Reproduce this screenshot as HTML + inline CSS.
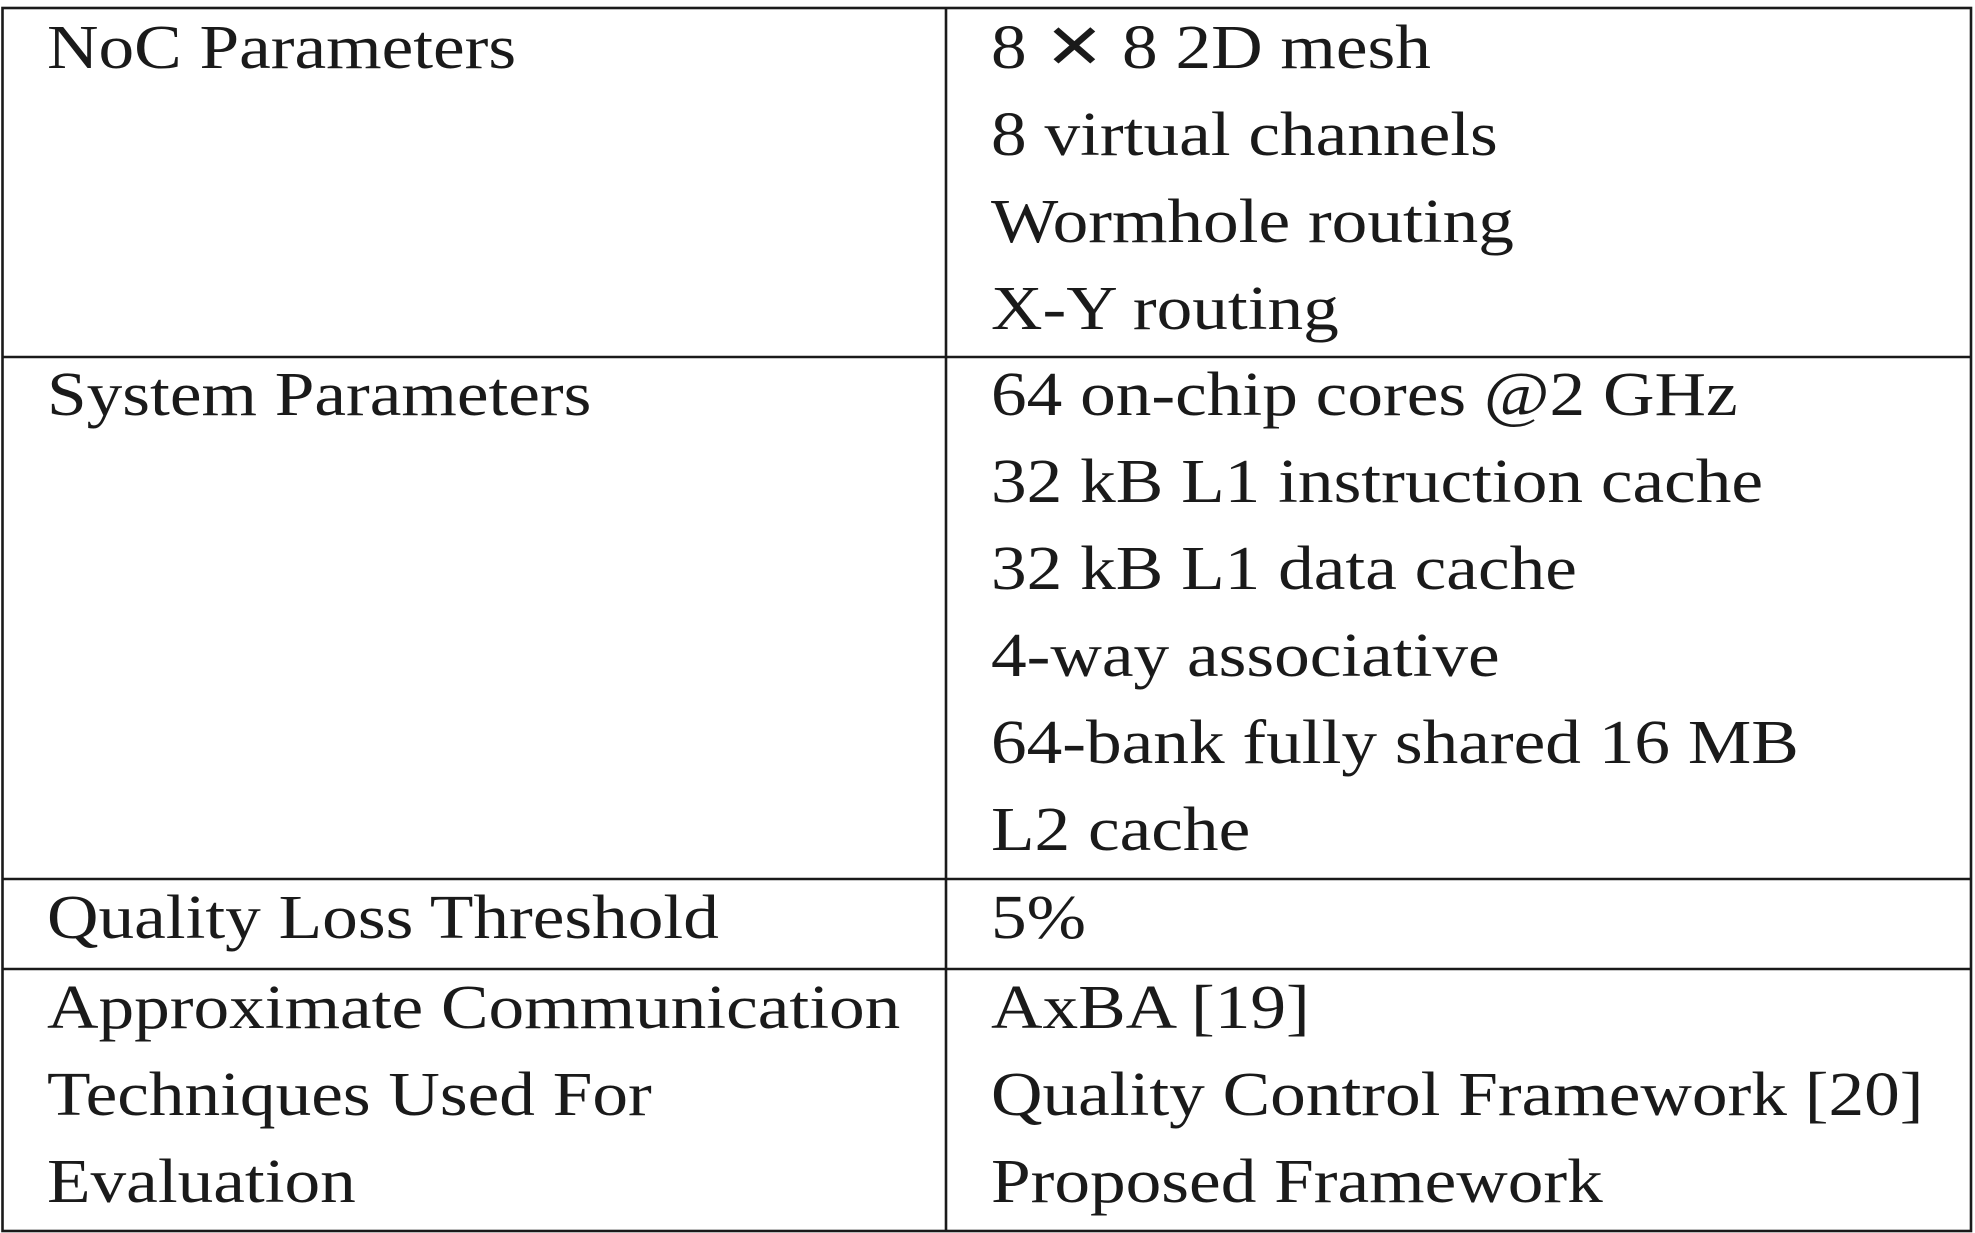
<!DOCTYPE html>
<html><head><meta charset="utf-8"><style>
html,body{margin:0;padding:0;background:#fff;}
svg{display:block;}
text{font-family:"Liberation Serif",serif;font-size:62px;fill:#1a1a1a;}
</style></head><body>
<svg width="1975" height="1233" viewBox="0 0 1975 1233" xmlns="http://www.w3.org/2000/svg">
<g stroke="#1a1a1a" stroke-width="2.6" fill="none">
<rect x="2.5" y="8" width="1968.5" height="1223"/>
<line x1="946" y1="8" x2="946" y2="1231"/>
<line x1="2.5" y1="357" x2="1971" y2="357"/>
<line x1="2.5" y1="879" x2="1971" y2="879"/>
<line x1="2.5" y1="969" x2="1971" y2="969"/>
</g>
<g transform="translate(47,0) scale(1.15,1)">
<text x="0" y="68">NoC Parameters</text>
<text x="0" y="415">System Parameters</text>
<text x="0" y="938">Quality Loss Threshold</text>
<text x="0" y="1028">Approximate Communication</text>
<text x="0" y="1115">Techniques Used For</text>
<text x="0" y="1202">Evaluation</text>
</g>
<g transform="translate(991,0) scale(1.15,1)">
<text x="0" y="68">8 ✕ 8 2D mesh</text>
<text x="0" y="155">8 virtual channels</text>
<text x="0" y="242">Wormhole routing</text>
<text x="0" y="329">X-Y routing</text>
<text x="0" y="415">64 on-chip cores @2 GHz</text>
<text x="0" y="502">32 kB L1 instruction cache</text>
<text x="0" y="589">32 kB L1 data cache</text>
<text x="0" y="676">4-way associative</text>
<text x="0" y="763">64-bank fully shared 16 MB</text>
<text x="0" y="850">L2 cache</text>
<text x="0" y="938">5%</text>
<text x="0" y="1028">AxBA [19]</text>
<text x="0" y="1115">Quality Control Framework [20]</text>
<text x="0" y="1202">Proposed Framework</text>
</g>
</svg>
</body></html>
